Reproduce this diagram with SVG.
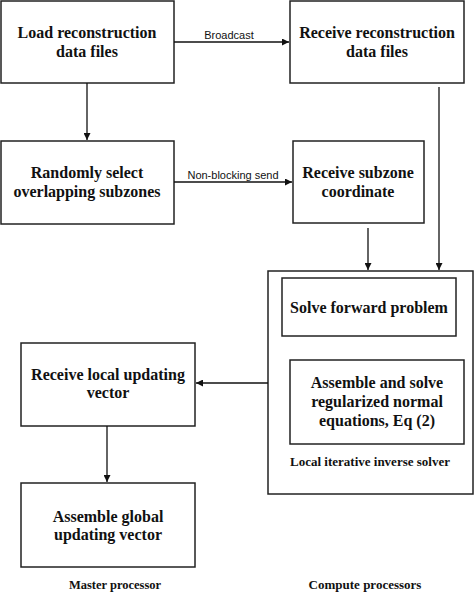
<svg xmlns="http://www.w3.org/2000/svg" width="474" height="594" viewBox="0 0 474 594">
<style>
.box{fill:#fff;stroke:#222;stroke-width:1.5}
.t{font-family:"Liberation Serif",serif;font-weight:bold;font-size:16px;fill:#111;text-anchor:middle}
.s{font-family:"Liberation Serif",serif;font-weight:bold;font-size:13px;fill:#111;text-anchor:middle}
.l{font-family:"Liberation Sans",sans-serif;font-size:11px;fill:#111;text-anchor:middle}
.c{stroke:#111;stroke-width:1.3;fill:none;marker-end:url(#a)}
</style>
<defs>
<marker id="a" viewBox="0 0 10 10" refX="10" refY="5" markerWidth="7" markerHeight="7" orient="auto" markerUnits="userSpaceOnUse">
<path d="M0,0 L10,5 L0,10 z" fill="#111"/>
</marker>
</defs>
<rect width="474" height="594" fill="#fff"/>
<g id="load">
<rect class="box" x="1" y="1" width="173" height="82"/>
<text class="t" x="87" y="38">Load reconstruction</text>
<text class="t" x="87" y="57">data files</text>
</g>
<g id="receive-data">
<rect class="box" x="290" y="1" width="174" height="82"/>
<text class="t" x="377" y="38">Receive reconstruction</text>
<text class="t" x="377" y="57">data files</text>
</g>
<g id="random">
<rect class="box" x="1" y="141" width="173" height="83"/>
<text class="t" x="87" y="178">Randomly select</text>
<text class="t" x="87" y="197">overlapping subzones</text>
</g>
<g id="subzone">
<rect class="box" x="293" y="141" width="131" height="82"/>
<text class="t" x="358" y="178">Receive subzone</text>
<text class="t" x="358" y="197">coordinate</text>
</g>
<g id="solver">
<rect class="box" x="268" y="271" width="205" height="223"/>
<text class="s" x="370" y="466">Local iterative inverse solver</text>
</g>
<g id="forward">
<rect class="box" x="282" y="278" width="174" height="58"/>
<text class="t" x="369" y="313">Solve forward problem</text>
</g>
<g id="assemble-solve">
<rect class="box" x="290" y="360" width="174" height="84"/>
<text class="t" x="377" y="388">Assemble and solve</text>
<text class="t" x="377" y="407">regularized normal</text>
<text class="t" x="377" y="426">equations, Eq (2)</text>
</g>
<g id="receive-local">
<rect class="box" x="21" y="343" width="174" height="83"/>
<text class="t" x="108" y="380">Receive local updating</text>
<text class="t" x="108" y="398">vector</text>
</g>
<g id="assemble-global">
<rect class="box" x="21" y="483" width="174" height="84"/>
<text class="t" x="108" y="522">Assemble global</text>
<text class="t" x="108" y="540">updating vector</text>
</g>
<g id="captions">
<text class="s" x="115" y="589" style="font-size:12.5px">Master processor</text>
<text class="s" x="365" y="589">Compute  processors</text>
</g>
<g id="connectors">
<line class="c" x1="174" y1="42" x2="289" y2="42"/>
<text class="l" x="229" y="39">Broadcast</text>
<line class="c" x1="87" y1="83" x2="87" y2="140"/>
<line class="c" x1="174" y1="182" x2="292" y2="182"/>
<text class="l" x="233" y="179">Non-blocking send</text>
<line class="c" x1="439" y1="87" x2="439" y2="270"/>
<line class="c" x1="368" y1="228" x2="368" y2="270"/>
<line class="c" x1="268" y1="383" x2="196" y2="383"/>
<line class="c" x1="107" y1="426" x2="107" y2="482"/>
</g>
</svg>
